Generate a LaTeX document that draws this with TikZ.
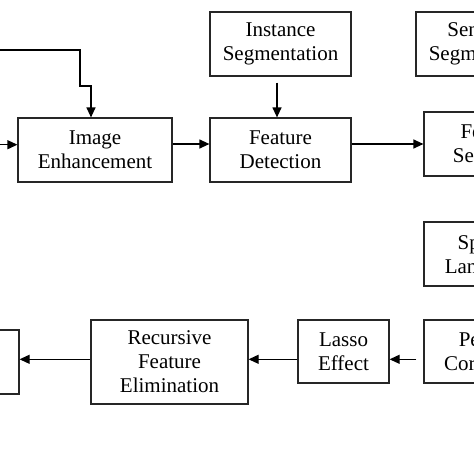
\documentclass[tikz,border=0pt]{standalone}
\usepackage{fontspec}
\setmainfont{Liberation Serif}
\usetikzlibrary{positioning}
\usetikzlibrary{arrows.meta}
\usetikzlibrary{calc}
\tikzstyle{block}=[rectangle,draw=black!85,line width=1.2pt,align=center,inner sep=0pt,font=\fontsize{21}{24}\selectfont]
\tikzstyle{edge} = [draw,line width=1.2pt,-{Triangle[length=10pt,width=9pt]}]

\begin{document}
\begin{tikzpicture}[x=1pt,y=-1pt]

  \useasboundingbox (0,0) rectangle (474,474);
  \clip (0,0) rectangle (474,474);

   \foreach \x/\y/\w/\h/\name/\label in {95/150/154/64/enh/{Image\\Enhancement}, 280.5/44/141/64/inst/{Instance\\Segmentation}, 280.5/150/141/64/det/{Feature\\Detection}, 486.5/44/141/64/sem/{Semantic\\Segmentation}, 492/144/136/64/sel/{Feature\\Selection}, 492/254/136/64/spec/{Spectral\\Landmarks}, 492/351.5/136/63/pear/{Pearson\\Correlation}, 343.5/351.5/91/63/lasso/{Lasso\\Effect}, 169.5/362/157/84/rfe/{Recursive\\Feature\\Elimination}}
          \node[block, minimum width=\w pt, minimum height=\h pt] (\name) at (\x,\y) {\label};

  % box cut off on the left
  \node[block, minimum width=138pt, minimum height=64pt] (out) at (-50,362) {};

  \coordinate (in) at (0,144.7);
  \coordinate (fb) at (0,50);
  \coordinate (row) at (0,359.3);

  \draw[edge] (in) -- (enh.west |- in);
  \draw[edge] (fb) -| (80,86) -| ($(enh.north)+(-4,0)$);
  \draw[edge] ($(inst.south)+(-3.5,6)$) -- ($(det.north)+(-3.5,0)$);
  \draw[edge] (enh.east |- sel.west) -- (det.west |- sel.west);
  \draw[edge] (det.east |- sel.west) -- (sel.west);

  \draw[edge] ($(pear.west |- row)+(-7,0)$) -- (lasso.east |- row);
  \draw[edge] (lasso.west |- row) -- (rfe.east |- row);
  \draw[edge] (rfe.west |- row) -- (out.east |- row);

\end{tikzpicture}
\end{document}
